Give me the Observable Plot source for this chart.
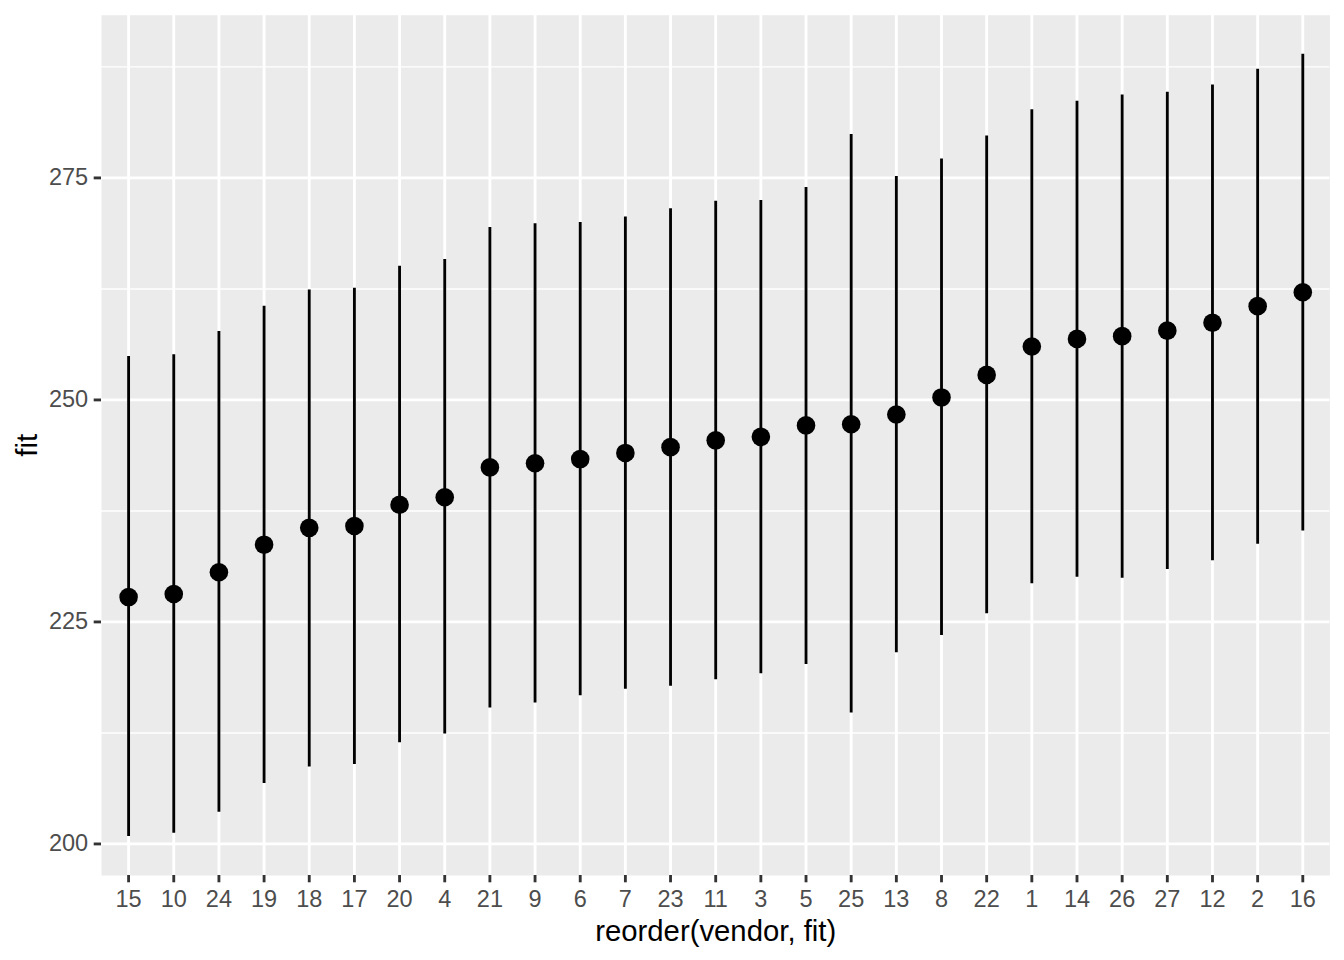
<!DOCTYPE html>
<html>
<head>
<meta charset="utf-8">
<script src="https://cdn.jsdelivr.net/npm/d3@7"></script>
<script src="https://cdn.jsdelivr.net/npm/@observablehq/plot@0.6"></script>
<style>
  html, body { margin: 0; padding: 0; background: #ffffff; }
  #chart svg { display: block; }
</style>
</head>
<body>
<div id="chart"></div>
<script>
const vendors = ["15","10","24","19","18","17","20","4","21","9","6","7","23","11","3","5","25","13","8","22","1","14","26","27","12","2","16"];
const fit = [227.8,228.15,230.6,233.7,235.6,235.8,238.2,239.04,242.4,242.87,243.34,244.03,244.68,245.45,245.84,247.13,247.26,248.36,250.28,252.82,256.02,256.87,257.18,257.8,258.69,260.56,262.12];
const lower = [200.85,201.2,203.56,206.8,208.67,208.96,211.4,212.38,215.3,215.86,216.68,217.41,217.75,218.48,219.17,220.2,214.74,221.54,223.47,225.92,229.31,230.02,229.93,230.91,231.89,233.76,235.23];
const upper = [254.88,255.1,257.7,260.54,262.39,262.57,265.05,265.8,269.41,269.84,269.97,270.61,271.52,272.38,272.46,273.92,279.88,275.17,277.13,279.71,282.69,283.63,284.34,284.65,285.45,287.23,288.92];
const yMajorTicks = [200, 225, 250, 275];
const yMinorTicks = [212.5, 237.5, 262.5, 287.5];
const xTitle = "reorder(vendor, fit)";
const yTitle = "fit";

const data = vendors.map((v, i) => ({vendor: v, fit: fit[i], lo: lower[i], hi: upper[i]}));

// ggplot-like 5% expansion of the continuous axis
const lo = d3.min(lower), hi = d3.max(upper);
const pad = (hi - lo) * 0.05;

const font = "'Liberation Sans', Arial, Helvetica, sans-serif";

const chart = Plot.plot({
  width: 1344,
  height: 960,
  marginLeft: 101,
  marginRight: 14.6,
  marginTop: 14.7,
  marginBottom: 85,
  style: {fontFamily: font, background: "#ffffff"},
  x: {type: "point", domain: vendors, padding: 0.6, round: false, axis: null},
  y: {domain: [lo - pad, hi + pad], nice: false, axis: null},
  marks: [
    Plot.frame({fill: "#EBEBEB", stroke: null}),
    Plot.ruleY(yMinorTicks, {stroke: "#ffffff", strokeWidth: 1.42}),
    Plot.ruleY(yMajorTicks, {stroke: "#ffffff", strokeWidth: 2.85}),
    Plot.ruleX(vendors, {stroke: "#ffffff", strokeWidth: 2.85}),
    Plot.ruleX(data, {x: "vendor", y1: "lo", y2: "hi", stroke: "#000000", strokeWidth: 2.85}),
    Plot.dot(data, {x: "vendor", y: "fit", r: 9.3, fill: "#000000", stroke: null}),
    Plot.axisY({ticks: yMajorTicks, tickSize: 7.3, tickPadding: 6, fontSize: 23.5,
      stroke: "#333333", fill: "#4D4D4D", strokeWidth: 2.85, label: null}),
    Plot.axisX({tickSize: 7.3, tickPadding: 7.7, fontSize: 23.5,
      stroke: "#333333", fill: "#4D4D4D", strokeWidth: 2.85, label: null}),
    Plot.text([xTitle], {frameAnchor: "bottom", dy: 56.6, lineAnchor: "middle", textAnchor: "middle",
      fontSize: 29.3, fill: "#000000"}),
    Plot.text([yTitle], {frameAnchor: "left", dx: -73.4, lineAnchor: "middle", textAnchor: "middle",
      rotate: -90, fontSize: 29.3, fill: "#000000"})
  ]
});

document.getElementById("chart").appendChild(chart);
</script>
</body>
</html>
